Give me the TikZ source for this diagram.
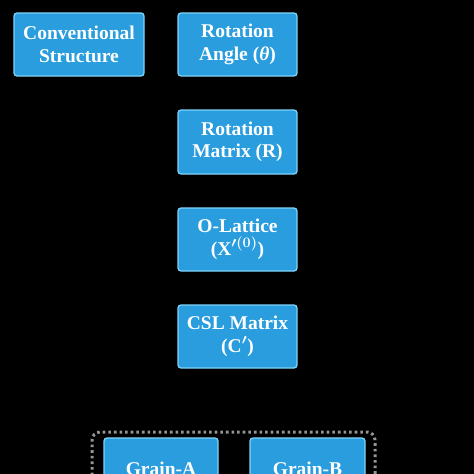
\documentclass[tikz,border=0pt]{standalone}
\usepackage{fontspec}
\setmainfont{Liberation Serif}
\begin{document}
\begin{tikzpicture}[x=1pt,y=-1pt,
  box/.style={rectangle, rounded corners=3pt, fill={rgb,255:red,42;green,157;blue,222},
    draw={rgb,255:red,125;green,212;blue,250}, line width=1.3pt, text=white,
    font=\fontsize{19.5}{22.5}\selectfont\bfseries\boldmath, align=center, inner sep=0pt,
    minimum height=63pt},
  frame/.style={draw={rgb,255:red,150;green,150;blue,150}, line width=3pt, dash pattern=on 2.6pt off 3pt, rounded corners=8pt}]
\fill[black] (0,0) rectangle (474,474);
\useasboundingbox (0,0) rectangle (474,474);
\node[box, minimum width=130pt] (conv) at (79,44.5) {Conventional\\Structure};
\node[box, minimum width=119pt] (angle) at (237.5,44.5) {Rotation\\Angle ({\itshape θ})};
\node[box, minimum width=119pt, minimum height=64pt] (rmat) at (237.5,142) {Rotation\\Matrix (R)};
\node[box, minimum width=119pt] (olat) at (237.5,239.5) {O-Lattice\\(X$^{\prime(0)}$)};
\node[box, minimum width=119pt] (csl) at (237.5,336.5) {CSL Matrix\\(C$'$)};
\draw[frame] (92,520) -- (92,432) -- (375,432) -- (375,520);
\node[box, minimum width=114pt, minimum height=62pt] (ga) at (161,469) {Grain-A};
\node[box, minimum width=115pt, minimum height=62pt] (gb) at (307.5,469) {Grain-B};
\end{tikzpicture}
\end{document}
